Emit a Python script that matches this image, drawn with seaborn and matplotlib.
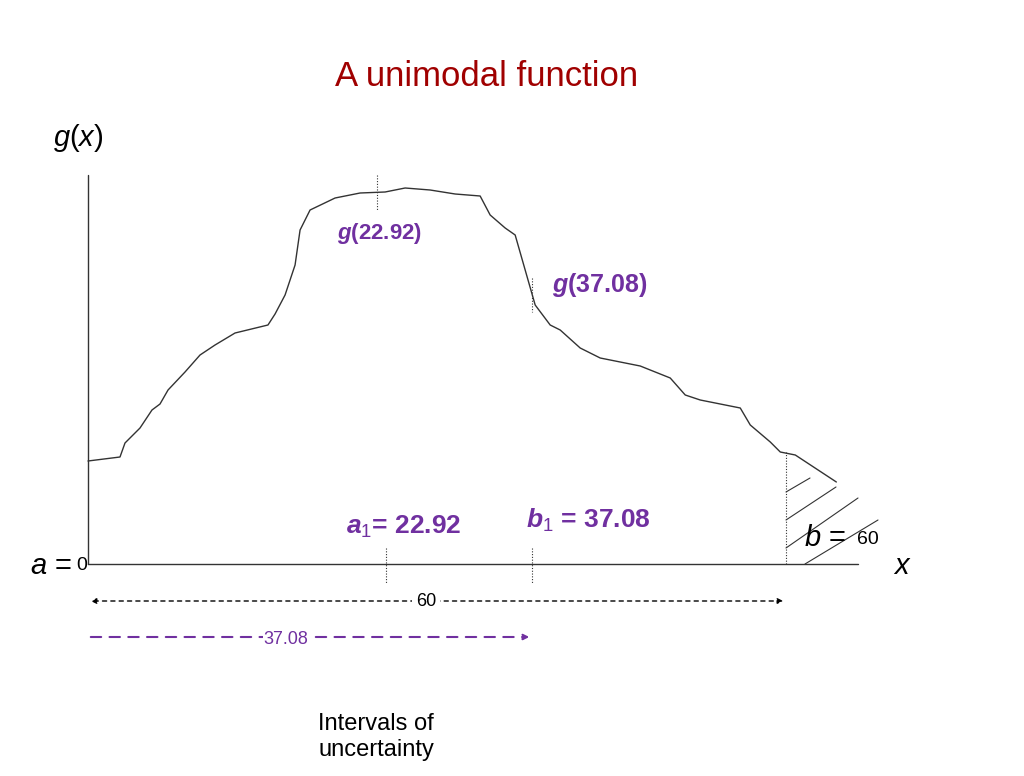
import matplotlib
matplotlib.use("Agg")
import matplotlib.pyplot as plt
import seaborn as sns
import numpy as np

sns.set_theme(style="white")
plt.rcParams['font.family'] = ['Liberation Sans', 'DejaVu Sans']
plt.rcParams['mathtext.fontset'] = 'custom'
plt.rcParams['mathtext.it'] = 'Liberation Sans:italic'
plt.rcParams['mathtext.bf'] = 'Liberation Sans:bold:italic'
plt.rcParams['mathtext.rm'] = 'Liberation Sans'

# curve: x in [0,60], g in pixel-height units above baseline
curve_x = [0.0, 2.75, 3.18, 4.47, 5.5, 6.19, 6.88, 8.34, 9.63, 10.92, 12.64, 15.47, 16.08, 16.94,
           17.8, 18.23, 19.09, 21.24, 23.39, 25.54, 27.26, 29.41, 31.56, 33.71, 34.57, 35.86, 36.72,
           37.58, 38.44, 39.73, 40.59, 42.31, 44.03, 47.47, 50.05, 51.34, 52.63, 56.07, 56.93, 58.65,
           59.51, 60.8, 64.33]
curve_g = [103, 107, 121, 136, 154, 160, 174, 192, 209, 219, 231, 239, 250, 269, 299, 334, 354,
           366, 371, 372, 376, 374, 370, 368, 349, 336, 329, 294, 259, 239, 234, 216, 206, 198,
           186, 169, 164, 156, 139, 122, 112, 109, 82]
a1_label, b1_label, L = "22.92", "37.08", 60
# drawn (schematic) positions of the a1 / b1 markers on the axis
a1_pos, b1_pos = 25.62, 38.17

S = 11.633  # px per x-unit
fig = plt.figure(figsize=(10.24, 7.76), dpi=100)
ax = fig.add_axes([0, 0, 1, 1])
ax.set_xlim(-88 / S, (1024 - 88) / S)
ax.set_ylim(-212, 564)
ax.axis('off')

sns.lineplot(x=curve_x, y=curve_g, ax=ax, color='#333333', lw=1, sort=False)
ax.plot([0, 0], [0, 389], color='#333333', lw=1)
ax.plot([0, (858 - 88) / S], [0, 0], color='#333333', lw=1)

def px(p):
    return (p - 88) / S

# hatch
for (x0, y0, x1, y1) in [(786, 492, 810, 478), (786, 520, 836, 487), (786, 548, 858, 498), (805, 564, 878, 520)]:
    ax.plot([px(x0), px(x1)], [564 - y0, 564 - y1], color='#333333', lw=0.8)

dot = dict(color='#333333', lw=0.8, ls=(0, (1, 1.5)))
ax.plot([a1_pos, a1_pos], [16, -19], **dot)
ax.plot([b1_pos, b1_pos], [16, -19], **dot)
ax.plot([px(377), px(377)], [389, 354], **dot)
ax.plot([b1_pos, b1_pos], [286, 252], **dot)
ax.plot([L, L], [0, 112], **dot)

purple = '#7030A0'
ax.text(px(487), 564 - 77, 'A unimodal function', color='#A00000', fontsize=25, ha='center', va='center')
ax.text(px(78), 564 - 138, r'$g$($x$)', fontsize=21, ha='center', va='center', color='black')
ax.text(px(902), 564 - 566, r'$x$', fontsize=21, ha='center', va='center', color='black')
ax.text(px(52), 564 - 566, r'$a$ = ', fontsize=21, ha='center', va='center', color='black')
ax.text(px(82), 564 - 566, '0', fontsize=14, ha='center', va='center', color='black')
ax.text(px(826), 564 - 538, r'$b$ = ', fontsize=21, ha='center', va='center', color='black')
ax.text(px(868), 564 - 540, '60', fontsize=14, ha='center', va='center', color='black')
ax.text(px(380), 564 - 233, r'$\mathbf{g}$(' + a1_label + ')', fontsize=16, ha='center', va='center', color=purple, fontweight='bold')
ax.text(px(600), 564 - 285, r'$\mathbf{g}$(' + b1_label + ')', fontsize=18, ha='center', va='center', color=purple, fontweight='bold')
ax.text(px(404), 564 - 527, r'$\mathbf{a}_\mathrm{1}$= ' + a1_label, fontsize=19, ha='center', va='center', color=purple, fontweight='bold')
ax.text(px(588), 564 - 520, r'$\mathbf{b}_\mathrm{1}$ = ' + b1_label, fontsize=19, ha='center', va='center', color=purple, fontweight='bold')

ax.annotate('', xy=(0, -37), xytext=(L, -37),
            arrowprops=dict(arrowstyle='<|-|>', ls=(0, (3, 3)), color='black', lw=1, mutation_scale=8))
ax.text(px(426), -38, '60', fontsize=13, ha='center', va='center', color='black',
        bbox=dict(fc='white', ec='none', pad=3))
ax.annotate('', xy=(b1_pos, -73), xytext=(0, -73),
            arrowprops=dict(arrowstyle='-|>', ls=(0, (5, 4)), color=purple, lw=1.5, mutation_scale=8))
ax.text(px(286), -75, b1_label, fontsize=13, ha='center', va='center', color=purple,
        bbox=dict(fc='white', ec='none', pad=0.5))
ax.text(px(376), 564 - 737, 'Intervals of\nuncertainty', fontsize=17, ha='center', va='center', color='black', linespacing=1.2)

fig.savefig('out.png', dpi=100)
